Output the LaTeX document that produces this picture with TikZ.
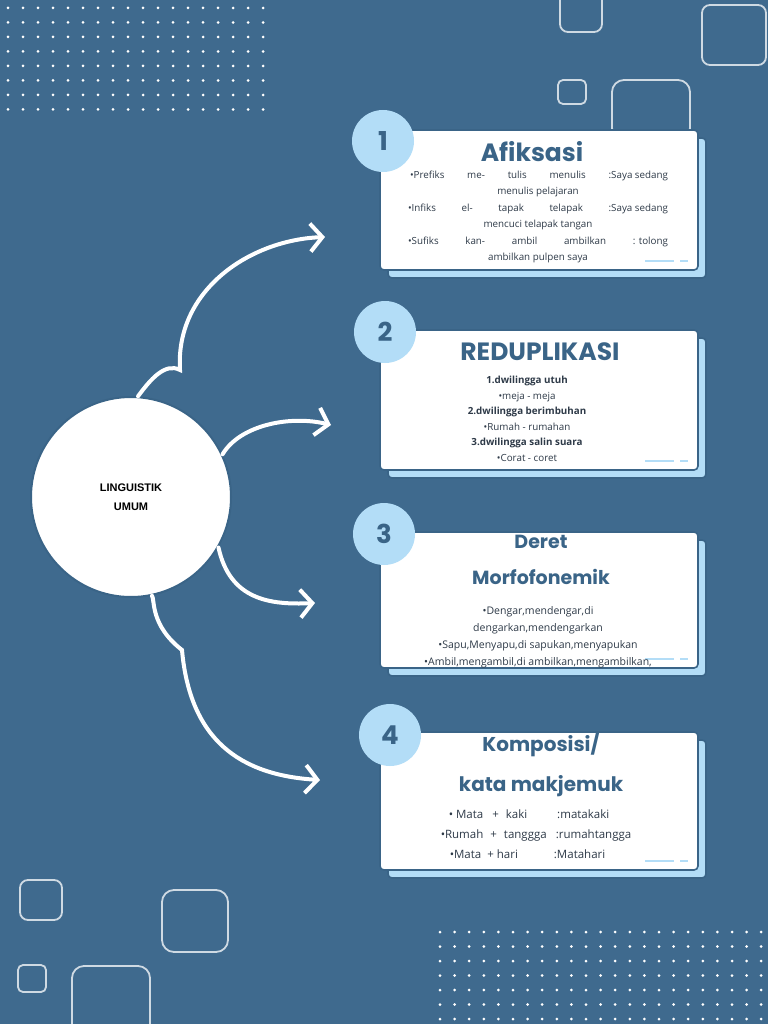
\documentclass[tikz,border=0pt]{standalone}
\usepackage{fontspec}
\setmainfont{Open Sans}
\newfontfamily\ttlfont{Poppins}
\newfontfamily\arial{Liberation Sans}
\usetikzlibrary{arrows.meta}
\definecolor{bg}{HTML}{3F6A8E}
\definecolor{lb}{HTML}{B3DDF7}
\definecolor{dk}{HTML}{3A6487}
\definecolor{txt}{HTML}{2E3A48}
\tikzset{
 card/.style={draw=dk,line width=1.6pt,fill=white,rounded corners=4pt},
 shadowcard/.style={draw=dk,line width=1.6pt,fill=lb,rounded corners=4pt},
 numc/.style={circle,fill=lb,minimum size=62pt,inner sep=0pt,font=\ttlfont\bfseries\fontsize{26}{26}\selectfont,text=dk},
 ttl/.style={font=\ttlfont\bfseries\fontsize{25}{30}\selectfont,text=dk,align=center},
 body/.style={font=\fontsize{10}{15.5}\selectfont,text=txt,align=center},
 deco/.style={draw=white!75!bg,line width=1.8pt,rounded corners=8pt},
 arr/.style={draw=white,line width=4pt,line cap=round,-{Straight Barb[length=12pt,width=28pt,line width=4pt]}},
 dot/.style={fill=white,circle,inner sep=0pt,minimum size=3pt}
}
\begin{document}
\begin{tikzpicture}[x=1pt,y=-1pt]
\fill[bg] (0,0) rectangle (768,1024);
\useasboundingbox (0,0) rectangle (768,1024);
% dot grids
\foreach \i in {0,...,17}{\foreach \j in {0,...,7}{\fill[white] (8+\i*15,8+\j*14.5) circle (1.5);}}
\foreach \i in {0,...,22}{\foreach \j in {0,...,6}{\fill[white] (440+\i*14.6,932+\j*14.5) circle (1.5);}}
% decorative squares
\draw[deco] (560,-10) rectangle (602,32);
\draw[deco] (702,5) rectangle (766,65);
\draw[deco,rounded corners=5pt] (558,80) rectangle (586,104);
\draw[deco,rounded corners=12pt] (612,80) rectangle (690,140);
\draw[deco] (20,880) rectangle (62,920);
\draw[deco,rounded corners=12pt] (162,890) rectangle (228,952);
\draw[deco,rounded corners=5pt] (18,965) rectangle (46,992);
\draw[deco,rounded corners=12pt] (72,966) rectangle (150,1040);
% cards
\foreach \t/\b in {130/270,330/470,532/668,732/870}{
 \draw[shadowcard] (388,\t+8) rectangle (706,\b+8);
 \draw[card] (380,\t) rectangle (698,\b);
 \draw[lb,line width=2.5pt] (645,\b-9) -- (674,\b-9) (680,\b-9) -- (688,\b-9);
}
\node[numc] (n1) at (383,141) {1};
\node[numc] (n2) at (385,332) {2};
\node[numc] (n3) at (384,534) {3};
\node[numc] (n4) at (390,735) {4};
% texts
\node[ttl] (t1) at (532,152) {Afiksasi};
\node[body,text width=260pt,align=justify,font=\fontsize{9.8}{16.5}\selectfont] (b1) at (538,217) {%
\hspace*{2pt}•Prefiks\hfill me-\hfill tulis\hfill menulis\hfill :Saya sedang\\
\null\hfill menulis pelajaran\hfill\null\\
•Infiks\hfill el-\hfill tapak\hfill telapak\hfill :Saya sedang\\
\null\hfill mencuci telapak tangan\hfill\null\\
•Sufiks\hfill kan-\hfill ambil\hfill ambilkan\hfill : tolong\\
\null\hfill ambilkan pulpen saya\hfill\null};
\node[ttl] (t2) at (540,352) {REDUPLIKASI};
\node[body,font=\fontsize{9.8}{15.5}\selectfont] (b2) at (527,419) {\textbf{1.dwilingga utuh}\\•meja - meja\\\textbf{2.dwilingga berimbuhan}\\•Rumah - rumahan\\\textbf{3.dwilingga salin suara}\\•Corat - coret};
\node[ttl,font=\ttlfont\bfseries\fontsize{19}{36}\selectfont] (t3) at (541,560) {Deret\\Morfofonemik};
\node[body,font=\fontsize{10.5}{17}\selectfont] (b3) at (538,637) {•Dengar,mendengar,di\\dengarkan,mendengarkan\\•Sapu,Menyapu,di sapukan,menyapukan\\•Ambil,mengambil,di ambilkan,mengambilkan,};
\node[ttl,font=\ttlfont\bfseries\fontsize{20}{40}\selectfont] (t4) at (541,765) {Komposisi/\\kata makjemuk};
\node[body,font=\fontsize{11.5}{20}\selectfont,align=left] (b4) at (536,834) {\hspace*{8pt}• Mata\hspace{9pt}+\hspace{7pt}kaki\hspace{30pt}:matakaki\\•Rumah\hspace{7pt}+\hspace{7pt}tanggga\hspace{9pt}:rumahtangga\\\hspace*{9pt}•Mata\hspace{6pt}+ hari\hspace{36pt}:Matahari};
% main circle
\node[circle,draw=dk,line width=2pt,fill=white,minimum size=200pt,font=\arial\bfseries\fontsize{11}{19}\selectfont,align=center,text=black] (c) at (131,497) {LINGUISTIK\\UMUM};
% arrows
\coordinate (e1) at (325,237);
\coordinate (e2) at (331,425);
\coordinate (e3) at (315,603);
\coordinate (e4) at (320,780);
\draw[arr] (c.86) .. controls (150,380) and (165,362) .. (180,370) .. controls (175,290) and (250,240) .. (e1);
\draw[arr] (c.25) .. controls (240,425) and (290,415) .. (e2);
\draw[arr] (c.-30) .. controls (230,600) and (270,605) .. (e3);
\draw[arr] (c.-78) .. controls (155,600) and (150,625) .. (182,650) .. controls (190,740) and (240,775) .. (e4);
\end{tikzpicture}
\end{document}
